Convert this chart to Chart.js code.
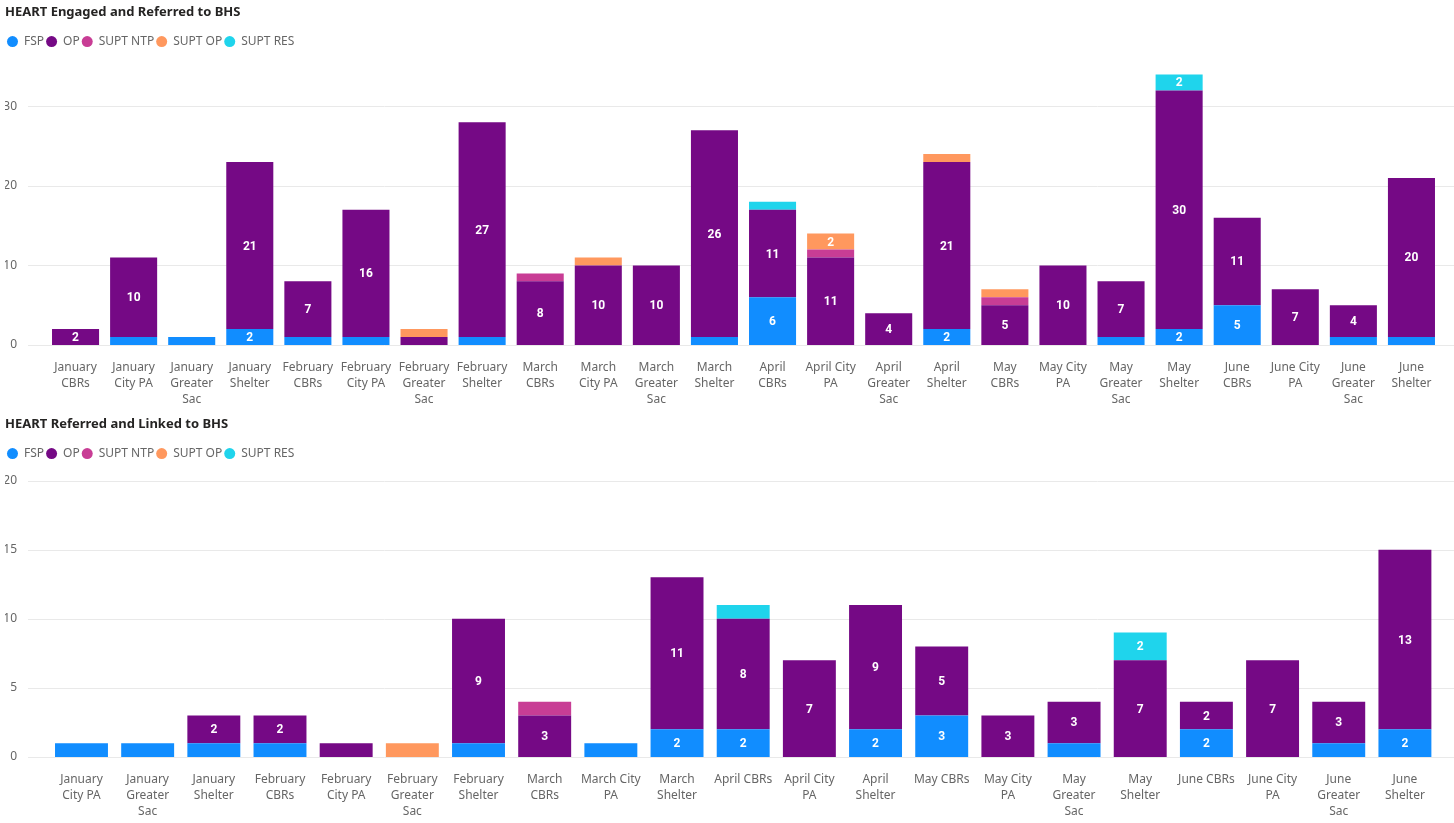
<!DOCTYPE html>
<html><head><meta charset="utf-8">
<script src="https://cdn.jsdelivr.net/npm/chart.js@4.4.1/dist/chart.umd.min.js"></script>
<style>
html,body{margin:0;padding:0;background:#fff;overflow:hidden;}
#w1{position:absolute;left:0;top:0;width:1454px;height:412px;}
#w2{position:absolute;left:0;top:412px;width:1454px;height:411px;}
</style></head><body>
<div id="w1"><canvas id="c1"></canvas></div>
<div id="w2"><canvas id="c2"></canvas></div>
<script>
const seriesNames = ['FSP', 'OP', 'SUPT NTP', 'SUPT OP', 'SUPT RES'];
const seriesColors = ['#118DFF', '#750985', '#C83D95', '#FF985E', '#1FD4EC'];

const engagedTitle = 'HEART Engaged and Referred to BHS';
const engagedCategories = [
  ['January', 'CBRs'], ['January', 'City PA'], ['January', 'Greater', 'Sac'], ['January', 'Shelter'],
  ['February', 'CBRs'], ['February', 'City PA'], ['February', 'Greater', 'Sac'], ['February', 'Shelter'],
  ['March', 'CBRs'], ['March', 'City PA'], ['March', 'Greater', 'Sac'], ['March', 'Shelter'],
  ['April', 'CBRs'], ['April City', 'PA'], ['April', 'Greater', 'Sac'], ['April', 'Shelter'],
  ['May', 'CBRs'], ['May City', 'PA'], ['May', 'Greater', 'Sac'], ['May', 'Shelter'],
  ['June', 'CBRs'], ['June City', 'PA'], ['June', 'Greater', 'Sac'], ['June', 'Shelter']
];
const engagedFSP     = [0, 1, 1, 2, 1, 1, 0, 1, 0, 0, 0, 1, 6, 0, 0, 2, 0, 0, 1, 2, 5, 0, 1, 1];
const engagedOP      = [2, 10, 0, 21, 7, 16, 1, 27, 8, 10, 10, 26, 11, 11, 4, 21, 5, 10, 7, 30, 11, 7, 4, 20];
const engagedSuptNTP = [0, 0, 0, 0, 0, 0, 0, 0, 1, 0, 0, 0, 0, 1, 0, 0, 1, 0, 0, 0, 0, 0, 0, 0];
const engagedSuptOP  = [0, 0, 0, 0, 0, 0, 1, 0, 0, 1, 0, 0, 0, 2, 0, 1, 1, 0, 0, 0, 0, 0, 0, 0];
const engagedSuptRES = [0, 0, 0, 0, 0, 0, 0, 0, 0, 0, 0, 0, 1, 0, 0, 0, 0, 0, 0, 2, 0, 0, 0, 0];
const engagedTicks = [0, 10, 20, 30];

const linkedTitle = 'HEART Referred and Linked to BHS';
const linkedCategories = [
  ['January', 'City PA'], ['January', 'Greater', 'Sac'], ['January', 'Shelter'],
  ['February', 'CBRs'], ['February', 'City PA'], ['February', 'Greater', 'Sac'], ['February', 'Shelter'],
  ['March', 'CBRs'], ['March City', 'PA'], ['March', 'Shelter'],
  ['April CBRs'], ['April City', 'PA'], ['April', 'Shelter'],
  ['May CBRs'], ['May City', 'PA'], ['May', 'Greater', 'Sac'], ['May', 'Shelter'],
  ['June CBRs'], ['June City', 'PA'], ['June', 'Greater', 'Sac'], ['June', 'Shelter']
];
const linkedFSP     = [1, 1, 1, 1, 0, 0, 1, 0, 1, 2, 2, 0, 2, 3, 0, 1, 0, 2, 0, 1, 2];
const linkedOP      = [0, 0, 2, 2, 1, 0, 9, 3, 0, 11, 8, 7, 9, 5, 3, 3, 7, 2, 7, 3, 13];
const linkedSuptNTP = [0, 0, 0, 0, 0, 0, 0, 1, 0, 0, 0, 0, 0, 0, 0, 0, 0, 0, 0, 0, 0];
const linkedSuptOP  = [0, 0, 0, 0, 0, 1, 0, 0, 0, 0, 0, 0, 0, 0, 0, 0, 0, 0, 0, 0, 0];
const linkedSuptRES = [0, 0, 0, 0, 0, 0, 0, 0, 0, 0, 1, 0, 0, 0, 0, 0, 2, 0, 0, 0, 0];
const linkedTicks = [0, 5, 10, 15, 20];

const FONT = "'Noto Sans', 'Open Sans', sans-serif";
const GRAY = '#666666';

const fullGrid = {
  id: 'fullGrid',
  beforeDatasetsDraw(chart) {
    const y = chart.scales.y, ctx = chart.ctx;
    ctx.save();
    ctx.strokeStyle = '#E9E9E9';
    ctx.lineWidth = 1;
    y.ticks.forEach(t => {
      const py = Math.round(y.getPixelForValue(t.value)) + 0.5;
      ctx.beginPath(); ctx.moveTo(28, py); ctx.lineTo(chart.width, py); ctx.stroke();
    });
    ctx.restore();
  }
};

const segLabels = {
  id: 'segLabels',
  afterDatasetsDraw(chart) {
    const ctx = chart.ctx;
    ctx.save();
    ctx.font = "bold 12px Roboto, 'DejaVu Sans', sans-serif";
    ctx.fillStyle = '#FFFFFF';
    ctx.textAlign = 'center';
    ctx.textBaseline = 'middle';
    chart.data.datasets.forEach((ds, i) => {
      const meta = chart.getDatasetMeta(i);
      meta.data.forEach((bar, j) => {
        const v = ds.data[j];
        if (v >= 2) ctx.fillText(String(v), bar.x, (bar.y + bar.base) / 2 + 1);
      });
    });
    ctx.restore();
  }
};

function makeChart(id, cfg) {
  const legendExtra = {
    id: 'legendExtra',
    beforeInit(chart) {
      const orig = chart.legend.fit;
      chart.legend.fit = function () { orig.bind(chart.legend)(); this.height += cfg.legendExtra; };
    }
  };
  return new Chart(document.getElementById(id), {
    type: 'bar',
    data: {
      labels: cfg.labels,
      datasets: cfg.series.map((d, i) => ({
        label: seriesNames[i], data: d, backgroundColor: seriesColors[i],
        borderWidth: 0, barPercentage: cfg.barPct, categoryPercentage: 1
      }))
    },
    options: {
      responsive: true, maintainAspectRatio: false, animation: false,
      layout: { padding: { left: 5, right: cfg.padRight, top: 0, bottom: 0 } },
      plugins: {
        title: { display: true, text: cfg.title, align: 'start', color: '#252423',
          font: { family: FONT, size: 13, weight: 'bold', lineHeight: 1.2 }, padding: { top: 4, bottom: 14 } },
        legend: { display: true, align: 'start',
          labels: { usePointStyle: true, pointStyle: 'circle', boxHeight: 7.8, pointStyleWidth: 11,
            padding: 2, color: GRAY, font: { family: FONT, size: 12 } } },
        tooltip: { enabled: false }
      },
      scales: {
        x: {
          stacked: true,
          grid: { display: false, drawTicks: false }, border: { display: false },
          ticks: { color: GRAY, font: { family: FONT, size: 12, lineHeight: '16px' }, padding: 15,
            maxRotation: 0, minRotation: 0, autoSkip: false },
          afterFit(s) { s.height = cfg.xHeight; }
        },
        y: {
          stacked: true, min: 0, max: cfg.max,
          grid: { display: false, drawTicks: false }, border: { display: false },
          ticks: { color: GRAY, font: { family: FONT, size: 12 }, padding: cfg.yPad },
          afterBuildTicks(s) { s.ticks = cfg.ticks.map(v => ({ value: v })); },
          afterFit(s) { s.width = cfg.yWidth; }
        }
      }
    },
    plugins: [fullGrid, segLabels, legendExtra]
  });
}

makeChart('c1', {
  title: engagedTitle, labels: engagedCategories,
  series: [engagedFSP, engagedOP, engagedSuptNTP, engagedSuptOP, engagedSuptRES],
  ticks: engagedTicks, max: 36, barPct: 0.81, padRight: 13.5, xHeight: 67,
  yWidth: 41.5, yPad: 29.5, legendExtra: 1
});
makeChart('c2', {
  title: linkedTitle, labels: linkedCategories,
  series: [linkedFSP, linkedOP, linkedSuptNTP, linkedSuptOP, linkedSuptRES],
  ticks: linkedTicks, max: 20, barPct: 0.80, padRight: 16, xHeight: 66,
  yWidth: 43.4, yPad: 31.4, legendExtra: 11
});
</script>
</body></html>
